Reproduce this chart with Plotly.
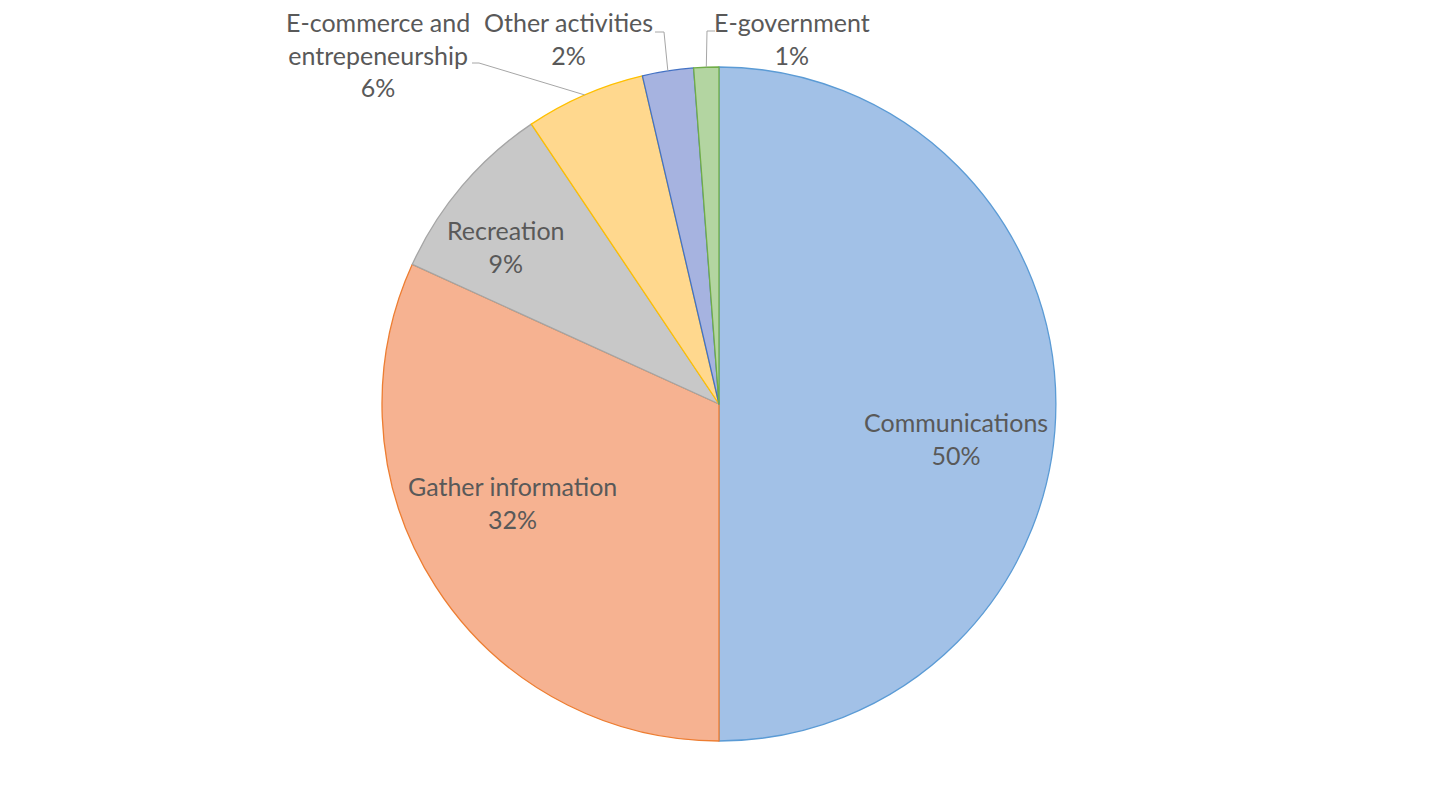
import math
import plotly.graph_objects as go

# ---------------- data ----------------
categories = ["Communications", "Gather information", "Recreation",
              "E-commerce and entrepeneurship", "Other activities", "E-government"]
label_text = ["Communications", "Gather information", "Recreation",
              "E-commerce and<br>entrepeneurship", "Other activities", "E-government"]
values = [50.0, 31.8, 8.8, 5.75, 2.45, 1.2]

# ---------------- styling / layout ----------------
W, H = 1437, 808
fill_colors = ["#A2C1E7", "#F6B291", "#C8C8C8", "#FFD88E", "#A6B3E0", "#B3D5A1"]
line_colors = ["#5B9BD5", "#ED7D31", "#A5A5A5", "#FFC000", "#4472C4", "#70AD47"]
CX, CY, R = 719, 404, 337          # pie centre / radius in pixels
# label block centres in pixels (x, y from top)
label_pos = [(956, 438), (512, 502), (506, 247), (378, 55), (568, 38), (792, 38)]
# leader lines: (start point at label, elbow point) in pixels, None = inside label
leader_pts = [None, None, None,
              ((472, 63), (479, 63)),
              ((655, 32), (664, 32)),
              ((715, 31), (707, 31))]
TXT = "#595959"
FONT = "Lato"

def px(x):
    return x / W

def py(y):
    return 1 - y / H

fig = go.Figure(go.Pie(
    labels=categories,
    values=values,
    sort=False,
    direction="clockwise",
    rotation=0,
    marker=dict(colors=fill_colors, line=dict(color=line_colors, width=1.3)),
    textinfo="none",
    hoverinfo="label+percent",
    domain=dict(x=[px(CX - R), px(CX + R)], y=[py(CY + R), py(CY - R)]),
    showlegend=False,
))

total = sum(values)
annotations = []
shapes = []
cum = 0.0
for i, v in enumerate(values):
    pct = v / total
    mid = (cum + pct / 2) * 2 * math.pi
    cum += pct
    lx, ly = label_pos[i]
    annotations.append(dict(
        x=px(lx), y=py(ly), xref="paper", yref="paper",
        text=f"{label_text[i]}<br>{round(pct * 100):.0f}%",
        showarrow=False, xanchor="center", yanchor="middle",
        font=dict(family=FONT, size=25, color=TXT), align="center",
    ))
    if leader_pts[i] is not None:
        (sx, sy), (ex, ey) = leader_pts[i]
        tx = CX + R * math.sin(mid)
        ty = CY - R * math.cos(mid)
        path = (f"M {px(sx)},{py(sy)} L {px(ex)},{py(ey)} "
                f"L {px(tx)},{py(ty)}")
        shapes.append(dict(type="path", xref="paper", yref="paper", path=path,
                           line=dict(color="#A6A6A6", width=1)))

fig.update_layout(
    width=W, height=H,
    margin=dict(l=0, r=0, t=0, b=0),
    paper_bgcolor="white",
    plot_bgcolor="white",
    annotations=annotations,
    shapes=shapes,
)
fig.write_html("out.html")
